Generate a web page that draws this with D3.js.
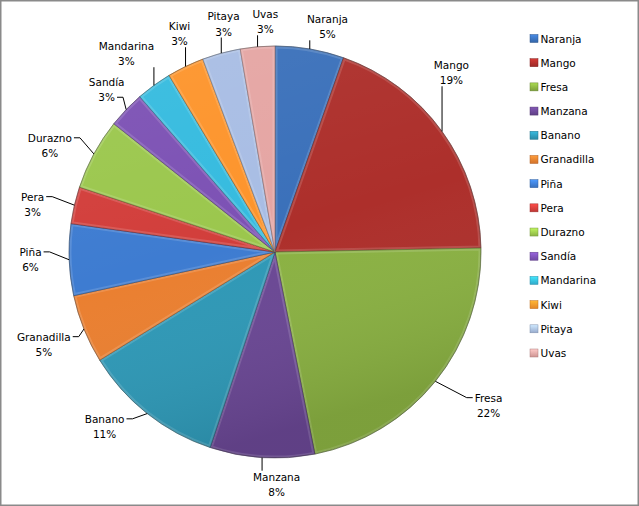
<!DOCTYPE html>
<html>
<head>
<meta charset="utf-8">
<script src="https://cdn.jsdelivr.net/npm/d3@7"></script>
<style>
  body { margin: 0; background: #fff; }
  svg text { font-family: "DejaVu Sans", Verdana, sans-serif; font-size: 10.5px; fill: #000; }
</style>
</head>
<body>
<div id="chart"></div>
<script>
// Data (share of each fruit, in percent)
const fruits = ['Naranja', 'Mango', 'Fresa', 'Manzana', 'Banano', 'Granadilla', 'Piña',
    'Pera', 'Durazno', 'Sandía', 'Mandarina', 'Kiwi', 'Pitaya', 'Uvas'];
const shares = [5.4, 19.3, 22.2, 8.2, 11.1, 5.4, 5.6, 2.9, 5.6, 2.9, 2.8, 2.9, 3.0, 2.7];

// Office 2007 style palette
const colors = ['#3a70ba', '#ad2f2b', '#8ab142', '#6a4794', '#2e98b6', '#ea7f30',
    '#3e7cd1', '#d23e3b', '#9bc74d', '#7c51b4', '#35bbdf', '#fd942b', '#a8bde4', '#e5a5a3'];

// where each data label sits: angle (deg, clockwise from 12 o'clock) and distance from centre
const labelAngle = [13.1, 44.5, 125.7, 179.6, 224.3, 248.2, 268.2, 281.1, 295.3, 314, 323.2, 336.4, 347.3, 357.6];
const labelDist = [231.5, 251.7, 263, 232.5, 244, 249, 244.6, 247, 249, 234, 248, 238.5, 234, 230.7];

const W = 639, H = 506;
const cx = 275, cy = 252, R = 206;

const svg = d3.select('#chart').append('svg')
    .attr('width', W)
    .attr('height', H);

// chart frame
svg.append('rect')
    .attr('x', 0.75).attr('y', 0.75)
    .attr('width', W - 1.5).attr('height', H - 1.5)
    .attr('fill', '#fff')
    .attr('stroke', '#8a8a8a')
    .attr('stroke-width', 1.5);

const defs = svg.append('defs');

const data = fruits.map((name, i) => ({ name, value: shares[i], color: colors[i], i }));
const total = d3.sum(shares);
const pct = v => Math.round(v / total * 100) + '%';

const pie = d3.pie().sort(null).value(d => d.value);
const arcs = pie(data);
const arc = d3.arc().innerRadius(0).outerRadius(R);

const pieG = svg.append('g').attr('transform', `translate(${cx},${cy})`);

arcs.forEach(a => {
    defs.append('clipPath').attr('id', 'clip' + a.data.i)
        .append('path').attr('d', arc(a));
});

const slices = pieG.selectAll('g.slice')
    .data(arcs)
    .join('g')
    .attr('class', 'slice');

slices.append('path')
    .attr('d', arc)
    .attr('fill', d => d.data.color);

// soft bevel along the slice edges (only the inner half of the stroke shows)
slices.append('path')
    .attr('d', arc)
    .attr('fill', 'none')
    .attr('clip-path', d => `url(#clip${d.data.i})`)
    .attr('stroke', '#fff')
    .attr('stroke-opacity', 0.14)
    .attr('stroke-width', 5);

slices.append('path')
    .attr('d', arc)
    .attr('fill', 'none')
    .attr('stroke', d => d3.color(d.data.color).darker(1.5))
    .attr('stroke-opacity', 0.75)
    .attr('stroke-width', 0.8);

// overall shading of the disc
const shade = defs.append('linearGradient')
    .attr('id', 'shade')
    .attr('x1', 0).attr('y1', 0).attr('x2', 0.3).attr('y2', 1);
shade.append('stop').attr('offset', '0%').attr('stop-color', '#fff').attr('stop-opacity', 0.06);
shade.append('stop').attr('offset', '55%').attr('stop-color', '#fff').attr('stop-opacity', 0);
shade.append('stop').attr('offset', '100%').attr('stop-color', '#000').attr('stop-opacity', 0.1);

pieG.append('circle')
    .attr('r', R)
    .attr('fill', 'url(#shade)')
    .attr('stroke', '#555')
    .attr('stroke-opacity', 0.35)
    .attr('stroke-width', 0.8)
    .attr('pointer-events', 'none');

// data labels with leader lines
const rad = deg => deg * Math.PI / 180;
const labelsG = svg.append('g');
const linesG = svg.append('g');

arcs.forEach((a, k) => {
    const lx = cx + labelDist[k] * Math.sin(rad(labelAngle[k]));
    const ly = cy - labelDist[k] * Math.cos(rad(labelAngle[k]));

    const g = labelsG.append('g');
    const t1 = g.append('text')
        .attr('x', lx).attr('y', ly - 7.8)
        .attr('text-anchor', 'middle')
        .attr('dominant-baseline', 'central')
        .text(a.data.name);
    const t2 = g.append('text')
        .attr('x', lx).attr('y', ly + 7.8)
        .attr('text-anchor', 'middle')
        .attr('dominant-baseline', 'central')
        .text(pct(a.data.value));

    // point on the rim at the middle of the slice
    const mid = (a.startAngle + a.endAngle) / 2;
    const px = cx + R * Math.sin(mid);
    const py = cy - R * Math.cos(mid);

    const b1 = t1.node().getBBox();
    const b2 = t2.node().getBBox();
    const left = Math.min(b1.x, b2.x), right = Math.max(b1.x + b1.width, b2.x + b2.width);
    const top = b1.y, bottom = b2.y + b2.height;

    let pts;
    if (px >= left && px <= right) {
        // straight up / down
        const yEnd = py > bottom ? bottom : top;
        if (Math.abs(py - yEnd) < 3) return;
        pts = [[px, yEnd], [px, py]];
    } else {
        // attach to the nearer line end
        const side = px < left ? -1 : 1;
        const cands = [
            [side < 0 ? b1.x - 2 : b1.x + b1.width + 2, ly - 7.8],
            [side < 0 ? b2.x - 2 : b2.x + b2.width + 2, ly + 7.8]
        ];
        const best = cands.reduce((m, c) =>
            Math.hypot(c[0] - px, c[1] - py) < Math.hypot(m[0] - px, m[1] - py) ? c : m);
        const elbow = [best[0] + side * 6, best[1]];
        pts = [best, elbow, [px, py]];
    }
    linesG.append('path')
        .attr('d', d3.line()(pts))
        .attr('fill', 'none')
        .attr('stroke', '#000')
        .attr('stroke-width', 1);
});

// legend
const legendY = d3.scalePoint()
    .domain(fruits)
    .range([38.5, 353]);

data.forEach(d => {
    const g = defs.append('linearGradient')
        .attr('id', 'lgrad' + d.i)
        .attr('x1', 0).attr('y1', 0).attr('x2', 0).attr('y2', 1);
    g.append('stop').attr('offset', '0%').attr('stop-color', d3.color(d.color).brighter(0.6));
    g.append('stop').attr('offset', '100%').attr('stop-color', d3.color(d.color).darker(0.3));
});

const legend = svg.append('g')
    .selectAll('g')
    .data(data)
    .join('g')
    .attr('transform', d => `translate(530, ${legendY(d.name)})`);

legend.append('rect')
    .attr('x', 0).attr('y', -4)
    .attr('width', 8).attr('height', 8)
    .attr('fill', d => `url(#lgrad${d.i})`)
    .attr('stroke', d => d3.color(d.color).darker(0.8))
    .attr('stroke-width', 0.5);

legend.append('text')
    .attr('x', 10.5)
    .attr('y', 0)
    .attr('dominant-baseline', 'central')
    .text(d => d.name);
</script>
</body>
</html>
